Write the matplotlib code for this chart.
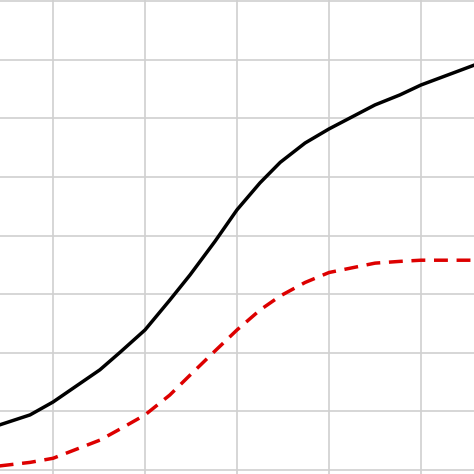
import matplotlib
matplotlib.use("Agg")
import matplotlib.pyplot as plt

# values (grid units)
x = [0.42, 0.75, 1.0, 1.51, 1.73, 2.0, 2.27, 2.49, 2.76, 3.0, 3.25, 3.47, 3.74, 4.0, 4.5, 4.77, 5.0, 5.58]
solid = [0.77, 0.94, 1.16, 1.71, 2.01, 2.39, 2.90, 3.33, 3.90, 4.44, 4.90, 5.25, 5.58, 5.82, 6.23, 6.40, 6.57, 6.91]
dashed = [0.07, 0.13, 0.20, 0.51, 0.70, 0.94, 1.28, 1.62, 2.03, 2.39, 2.73, 2.97, 3.20, 3.37, 3.53, 3.56, 3.58, 3.58]

fig = plt.figure(figsize=(4.74, 4.74), dpi=100)
ax = fig.add_axes([0, 0, 1, 1])
ax.plot(x, solid, color="black", lw=2.5)
ax.plot(x, dashed, color="#dd0000", lw=2.5, ls=(0, (4, 2.5)))
ax.set_xlim(0.424, 5.576)
ax.set_ylim(-0.068, 8.02)
ax.set_xticks([1, 2, 3, 4, 5])
ax.set_yticks(range(0, 9))
ax.grid(True, color="#d0d0d0", lw=1.2)
ax.tick_params(length=0, labelbottom=False, labelleft=False)
for s in ax.spines.values():
    s.set_visible(False)
fig.savefig("out.png", dpi=100)
